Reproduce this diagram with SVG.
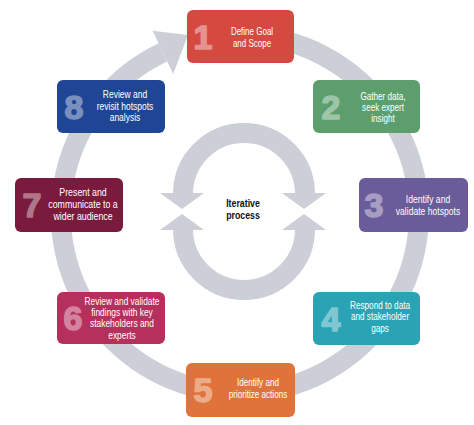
<svg xmlns="http://www.w3.org/2000/svg" width="474" height="425" viewBox="0 0 474 425">
<style>
.ring{fill:none;stroke:#cdcfd8;stroke-width:20}
.head{fill:#cdcfd8}
.num{font-family:"Liberation Sans",Arial,sans-serif;font-weight:bold;font-size:34px;text-anchor:middle;stroke-width:1.6;stroke-linejoin:round}
.lbl{font-family:"Liberation Sans",Arial,sans-serif;font-size:10px;fill:#ffffff;text-anchor:middle}
.ctr{font-family:"Liberation Sans",Arial,sans-serif;font-size:11px;font-weight:bold;fill:#111111;text-anchor:middle}
</style>
<rect width="474" height="425" fill="#ffffff"/>
<g id="connectors">
<path class="ring" d="M255.6,35.7 A179,179 0 1 1 162.9,52.4"/>
<polygon class="head" points="152.6,30.7 173.2,74.1 188,35"/>
<path class="ring" d="M183,194 A61,61 0 0 1 305,194"/>
<polygon class="head" points="160,193 204,193 182,209"/>
<polygon class="head" points="282,193 326,193 304,209"/>
<path class="ring" d="M183,229 A61,61 0 0 0 305,229"/>
<polygon class="head" points="160,230 204,230 182,214"/>
<polygon class="head" points="282,230 326,230 304,214"/>
</g>
<g id="center" transform="translate(243 0) scale(0.8 1)">
<text class="ctr" x="0" y="207">Iterative</text>
<text class="ctr" x="0" y="219.5">process</text>
</g>
<g id="n1">
<rect x="187" y="10" width="107" height="53" rx="6" fill="#d54a40"/>
<text class="num" x="203" y="48.5" fill="#e69290" stroke="#e69290">1</text>
<g transform="translate(252 0) scale(0.8 1)">
<text class="lbl" x="0" y="35.5">Define Goal</text>
<text class="lbl" x="0" y="47">and Scope</text>
</g>
</g>
<g id="n2">
<rect x="313" y="80" width="107" height="53" rx="6" fill="#5c9f6d"/>
<text class="num" x="331" y="118.5" fill="#9dc5a7" stroke="#9dc5a7">2</text>
<g transform="translate(383 0) scale(0.81 1)">
<text class="lbl" x="0" y="100">Gather data,</text>
<text class="lbl" x="0" y="111">seek expert</text>
<text class="lbl" x="0" y="122">insight</text>
</g>
</g>
<g id="n3">
<rect x="359" y="178" width="109" height="54" rx="6" fill="#6a5b9a"/>
<text class="num" x="374" y="217" fill="#a69dc2" stroke="#a69dc2">3</text>
<g transform="translate(428 0) scale(0.86 1)">
<text class="lbl" x="0" y="203">Identify and</text>
<text class="lbl" x="0" y="215">validate hotspots</text>
</g>
</g>
<g id="n4">
<rect x="313" y="292" width="107" height="53" rx="6" fill="#2aa3b4"/>
<text class="num" x="331" y="330.5" fill="#7fc8d2" stroke="#7fc8d2">4</text>
<g transform="translate(380 0) scale(0.82 1)">
<text class="lbl" x="0" y="309">Respond to data</text>
<text class="lbl" x="0" y="320">and stakeholder</text>
<text class="lbl" x="0" y="332">gaps</text>
</g>
</g>
<g id="n5">
<rect x="186" y="363" width="109" height="54" rx="6" fill="#df733b"/>
<text class="num" x="203" y="402" fill="#ecab89" stroke="#ecab89">5</text>
<g transform="translate(258 0) scale(0.81 1)">
<text class="lbl" x="0" y="386">Identify and</text>
<text class="lbl" x="0" y="398">prioritize actions</text>
</g>
</g>
<g id="n6">
<rect x="57" y="292" width="108" height="52" rx="6" fill="#b5305d"/>
<text class="num" x="73" y="330" fill="#d3839e" stroke="#d3839e">6</text>
<g transform="translate(122 0) scale(0.84 1)">
<text class="lbl" x="0" y="305">Review and validate</text>
<text class="lbl" x="0" y="316">findings with key</text>
<text class="lbl" x="0" y="327">stakeholders and</text>
<text class="lbl" x="0" y="339">experts</text>
</g>
</g>
<g id="n7">
<rect x="15" y="178" width="108" height="54" rx="6" fill="#7a1a3c"/>
<text class="num" x="32" y="217" fill="#af768a" stroke="#af768a">7</text>
<g transform="translate(83 0) scale(0.88 1)">
<text class="lbl" x="0" y="196">Present and</text>
<text class="lbl" x="0" y="208">communicate to a</text>
<text class="lbl" x="0" y="220">wider audience</text>
</g>
</g>
<g id="n8">
<rect x="57" y="80" width="108" height="53" rx="6" fill="#1f4595"/>
<text class="num" x="74" y="118.5" fill="#798fbf" stroke="#798fbf">8</text>
<g transform="translate(125 0) scale(0.85 1)">
<text class="lbl" x="0" y="98">Review and</text>
<text class="lbl" x="0" y="110">revisit hotspots</text>
<text class="lbl" x="0" y="121">analysis</text>
</g>
</g>
</svg>
